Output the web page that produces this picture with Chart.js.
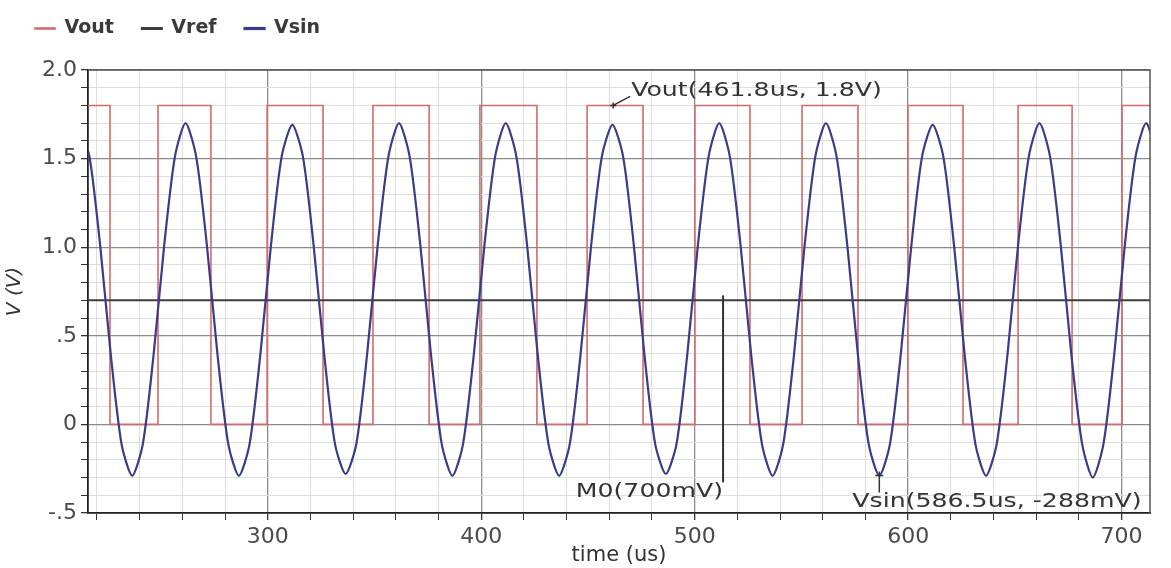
<!DOCTYPE html>
<html>
<head>
<meta charset="utf-8">
<script src="https://cdn.jsdelivr.net/npm/chart.js@4.4.1/dist/chart.umd.min.js"></script>
<style>
  html, body { margin: 0; padding: 0; background: #fff; }
  #wrap { width: 1171px; height: 568px; position: relative; }
</style>
</head>
<body>
<div id="wrap"><canvas id="myChart"></canvas></div>
<script>
// series (time in us, volts)
const voutTime = [210, 226.1, 248.6, 273.4, 299.7, 325.9, 349.3, 375.6, 399.4, 426.1, 449.6,
    475.8, 500.1, 525.9, 550.3, 576.5, 599.9, 625.7, 651.5, 676.8, 700.2, 716];
const voutValue = [1.8, 0, 1.8, 0, 1.8, 0, 1.8, 0, 1.8, 0, 1.8,
    0, 1.8, 0, 1.8, 0, 1.8, 0, 1.8, 0, 1.8, 1.8];

const vrefTime = [210, 716];
const vrefValue = [0.7, 0.7];

const vsinTime = [
    211.5, 216.5, 221.5, 226.5, 231.5, 236.5, 241.5, 246.5, 251.5, 256.5,
    261.5, 266.5, 271.5, 276.5, 281.5, 286.5, 291.5, 296.5, 301.5, 306.5,
    311.5, 316.5, 321.5, 326.5, 331.5, 336.5, 341.5, 346.5, 351.5, 356.5,
    361.5, 366.5, 371.5, 376.5, 381.5, 386.5, 391.5, 396.5, 401.5, 406.5,
    411.5, 416.5, 421.5, 426.5, 431.5, 436.5, 441.5, 446.5, 451.5, 456.5,
    461.5, 466.5, 471.5, 476.5, 481.5, 486.5, 491.5, 496.5, 501.5, 506.5,
    511.5, 516.5, 521.5, 526.5, 531.5, 536.5, 541.5, 546.5, 551.5, 556.5,
    561.5, 566.5, 571.5, 576.5, 581.5, 586.5, 591.5, 596.5, 601.5, 606.5,
    611.5, 616.5, 621.5, 626.5, 631.5, 636.5, 641.5, 646.5, 651.5, 656.5,
    661.5, 666.5, 671.5, 676.5, 681.5, 686.5, 691.5, 696.5, 701.5, 706.5,
    711.5, 716.5];
const vsinValue = [
    1.70, 1.51, 1.01, 0.39, -0.11, -0.29, -0.11, 0.39, 1.01, 1.51,
    1.70, 1.51, 1.01, 0.39, -0.11, -0.29, -0.11, 0.39, 1.01, 1.51,
    1.69, 1.51, 1.01, 0.39, -0.11, -0.28, -0.11, 0.39, 1.01, 1.51,
    1.70, 1.51, 1.01, 0.39, -0.11, -0.29, -0.11, 0.39, 1.01, 1.51,
    1.70, 1.51, 1.01, 0.39, -0.11, -0.29, -0.11, 0.39, 1.01, 1.51,
    1.69, 1.51, 1.01, 0.39, -0.11, -0.28, -0.11, 0.39, 1.01, 1.51,
    1.70, 1.51, 1.01, 0.39, -0.11, -0.29, -0.11, 0.39, 1.01, 1.51,
    1.70, 1.51, 1.01, 0.39, -0.11, -0.29, -0.11, 0.39, 1.01, 1.51,
    1.69, 1.51, 1.01, 0.39, -0.11, -0.29, -0.11, 0.39, 1.01, 1.51,
    1.70, 1.51, 1.01, 0.39, -0.11, -0.30, -0.11, 0.39, 1.01, 1.51,
    1.70, 1.51];

const xTickValues = [300, 400, 500, 600, 700];
const xTickLabels = ["300", "400", "500", "600", "700"];
const xMinorTicks = [220, 240, 260, 280, 300, 320, 340, 360, 380, 400, 420, 440, 460, 480,
    500, 520, 540, 560, 580, 600, 620, 640, 660, 680, 700];
const yTickValues = [-0.5, 0, 0.5, 1.0, 1.5, 2.0];
const yTickLabels = ["-.5", "0", ".5", "1.0", "1.5", "2.0"];

// cursor markers
const markerTime = [461.8, 586.5];
const markerValue = [1.8, -0.288];
const markerText = ["Vout(461.8us, 1.8V)", "Vsin(586.5us, -288mV)"];
const m0Time = 513.3;
const m0Value = 0.7;
const m0Text = "M0(700mV)";

const toPoints = (xs, ys) => xs.map((x, i) => ({ x: x, y: ys[i] }));

const isMajorX = (v) => xTickValues.indexOf(v) >= 0;
const isMajorY = (v) => yTickValues.some((t) => Math.abs(t - v) < 1e-6);

const FONT = "'DejaVu Sans', Verdana, sans-serif";

// text in the source is drawn a bit wider than the font
function wideText(ctx, text, x, y, align) {
    const sx = 1.26;
    const w = ctx.measureText(text).width * sx;
    const left = align === "right" ? x - w : x;
    ctx.save();
    ctx.translate(left, y);
    ctx.scale(sx, 1);
    ctx.textAlign = "left";
    ctx.fillText(text, 0, 0);
    ctx.restore();
}

const markers = {
    id: "markers",
    afterDatasetsDraw(chart) {
        const ctx = chart.ctx;
        const xs = chart.scales.x;
        const ys = chart.scales.y;
        const area = chart.chartArea;

        ctx.save();
        // frame on top and right
        ctx.strokeStyle = "#555";
        ctx.lineWidth = 1.5;
        ctx.beginPath();
        ctx.moveTo(area.left, area.top);
        ctx.lineTo(area.right, area.top);
        ctx.lineTo(area.right, area.bottom);
        ctx.stroke();

        ctx.font = "20px " + FONT;
        ctx.fillStyle = "#333";
        ctx.strokeStyle = "#333";
        ctx.lineWidth = 1.5;
        ctx.textBaseline = "middle";

        // Vout marker
        let px = xs.getPixelForValue(markerTime[0]);
        let py = ys.getPixelForValue(markerValue[0]);
        ctx.beginPath();
        ctx.moveTo(px - 3, py); ctx.lineTo(px + 3, py);
        ctx.moveTo(px, py - 3); ctx.lineTo(px, py + 3);
        ctx.moveTo(px, py); ctx.lineTo(px + 17, py - 9);
        ctx.stroke();
        wideText(ctx, markerText[0], px + 18, py - 15, "left");

        // Vsin marker
        px = xs.getPixelForValue(markerTime[1]);
        py = ys.getPixelForValue(markerValue[1]);
        ctx.beginPath();
        ctx.moveTo(px - 4, py); ctx.lineTo(px + 4, py);
        ctx.moveTo(px, py - 4); ctx.lineTo(px, py + 17);
        ctx.stroke();
        wideText(ctx, markerText[1], px - 27, py + 26, "left");

        // M0 marker
        px = xs.getPixelForValue(m0Time);
        py = ys.getPixelForValue(m0Value);
        ctx.lineWidth = 2;
        ctx.beginPath();
        ctx.moveTo(px, py - 5);
        ctx.lineTo(px, py + 182);
        ctx.stroke();
        wideText(ctx, m0Text, px, py + 191, "right");
        ctx.restore();
    },
};

const data = {
    datasets: [
        {
            label: "Vout",
            data: toPoints(voutTime, voutValue),
            borderColor: "#d66a6a",
            backgroundColor: "#d66a6a",
            borderWidth: 1.6,
            stepped: "before",
            pointRadius: 0,
            order: 3,
        },
        {
            label: "Vref",
            data: toPoints(vrefTime, vrefValue),
            borderColor: "#3d3d3d",
            backgroundColor: "#3d3d3d",
            borderWidth: 2,
            pointRadius: 0,
            order: 2,
        },
        {
            label: "Vsin",
            data: toPoints(vsinTime, vsinValue),
            borderColor: "#3b3b8c",
            backgroundColor: "#3b3b8c",
            borderWidth: 2.2,
            tension: 0.25,
            pointRadius: 0,
            order: 1,
        },
    ],
};

const config = {
    type: "line",
    data,
    options: {
        responsive: true,
        maintainAspectRatio: false,
        animation: false,
        layout: {
            padding: { left: 7, right: 21, top: -9, bottom: 0 },
        },
        plugins: {
            legend: {
                display: true,
                position: "top",
                align: "start",
                labels: {
                    boxWidth: 20,
                    boxHeight: 1,
                    padding: 28,
                    color: "#3a3a3a",
                    font: { family: FONT, size: 19, weight: "bold" },
                    sort: (a, b) => a.datasetIndex - b.datasetIndex,
                },
            },
            tooltip: { enabled: false },
        },
        scales: {
            x: {
                type: "linear",
                min: 215.8,
                max: 713.3,
                afterBuildTicks: (scale) => {
                    scale.ticks = xMinorTicks.map((v) => ({ value: v }));
                },
                afterFit: (scale) => {
                    scale.height = 55;
                },
                ticks: {
                    autoSkip: false,
                    maxRotation: 0,
                    padding: 4,
                    color: "#4a4a4a",
                    font: { family: FONT, size: 22 },
                    callback: (v) => {
                        const i = xTickValues.indexOf(v);
                        return i >= 0 ? xTickLabels[i] : "";
                    },
                },
                grid: {
                    color: (c) => (c.tick && isMajorX(c.tick.value) ? "#8c8c8c" : "#dedede"),
                    lineWidth: (c) => (c.tick && isMajorX(c.tick.value) ? 1.3 : 1),
                    tickColor: "#333",
                    tickLength: 7,
                },
                border: { color: "#222", width: 1.8 },
                title: {
                    display: true,
                    text: "time (us)",
                    color: "#333",
                    font: { family: FONT, size: 21 },
                    padding: { top: 0, bottom: 0 },
                },
            },
            // empty band between legend and plot
            xTop: {
                type: "linear",
                position: "top",
                display: true,
                ticks: { display: false },
                grid: { display: false, drawTicks: false },
                border: { display: false },
                afterFit: (scale) => {
                    scale.height = 22;
                },
            },
            y: {
                type: "linear",
                min: -0.5,
                max: 2.0,
                afterBuildTicks: (scale) => {
                    const t = [];
                    for (let i = -5; i <= 20; i++) t.push({ value: i / 10 });
                    scale.ticks = t;
                },
                afterFit: (scale) => {
                    scale.width = 81;
                },
                ticks: {
                    autoSkip: false,
                    padding: 4,
                    color: "#4a4a4a",
                    font: { family: FONT, size: 22 },
                    callback: (v) => {
                        const i = yTickValues.findIndex((t) => Math.abs(t - v) < 1e-6);
                        return i >= 0 ? yTickLabels[i] : "";
                    },
                },
                grid: {
                    color: (c) => (c.tick && isMajorY(c.tick.value) ? "#8c8c8c" : "#dedede"),
                    lineWidth: (c) => (c.tick && isMajorY(c.tick.value) ? 1.3 : 1),
                    tickColor: "#333",
                    tickLength: 7,
                },
                border: { color: "#222", width: 1.8 },
                title: {
                    display: true,
                    text: "V (V)",
                    color: "#333",
                    font: { family: FONT, size: 20, style: "italic", lineHeight: 1 },
                    padding: { top: -2, bottom: 0 },
                },
            },
        },
    },
    plugins: [markers],
};

const ctx = document.getElementById("myChart").getContext("2d");
const waveChart = new Chart(ctx, config);
</script>
</body>
</html>
